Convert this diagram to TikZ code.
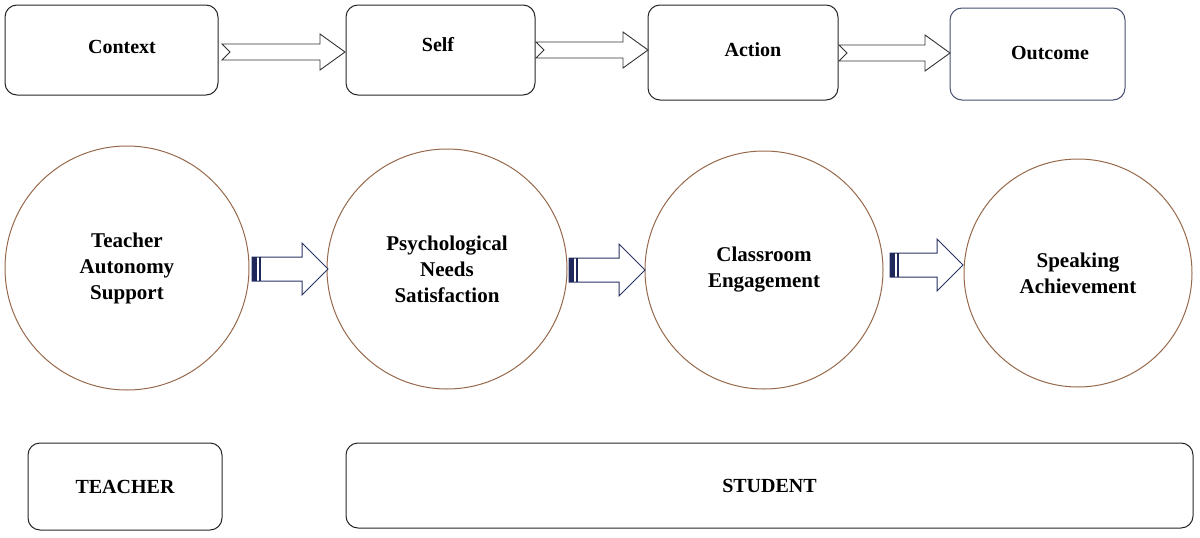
\documentclass[tikz,border=0pt]{standalone}
\usepackage{fontspec}
\setmainfont{Liberation Serif}
\definecolor{circbrown}{RGB}{150,105,75}
\definecolor{arrblue}{RGB}{40,50,100}
\definecolor{stripe}{RGB}{30,40,90}
\definecolor{outbord}{RGB}{70,80,110}
\tikzset{
 box/.style={draw=black!85, rounded corners=12pt, line width=1pt, font=\bfseries\fontsize{20}{22}\selectfont},
 circ/.style={draw=circbrown, line width=1pt, circle, align=center, font=\bfseries\fontsize{21}{26}\selectfont},
 oarrow/.style={draw=black!80, line width=0.9pt, fill=white},
 barrow/.style={draw=arrblue, line width=1pt, fill=white},
}
\newcommand\notcharrow[3]{% x1 x2 y
 \draw[oarrow] (#1,#3-8) -- (#2-25,#3-8) -- (#2-25,#3-18) -- (#2,#3) -- (#2-25,#3+18) -- (#2-25,#3+8) -- (#1,#3+8) -- (#1+8,#3) -- cycle;}
\newcommand\stripearrow[3]{%
 \draw[barrow] (#1,#3-12) -- (#2-26,#3-12) -- (#2-26,#3-26) -- (#2,#3) -- (#2-26,#3+26) -- (#2-26,#3+12) -- (#1,#3+12) -- cycle;
 \fill[stripe] (#1,#3-12) rectangle (#1+5,#3+12);
 \fill[stripe] (#1+7,#3-12) rectangle (#1+9,#3+12);}
\begin{document}
\begin{tikzpicture}[x=1pt,y=-1pt]
\useasboundingbox (0,0) rectangle (1200,538);
\draw[box] (5,5) rectangle (218,95); \node[box,draw=none] (ctx) at (122,47) {Context};
\draw[box] (346,5) rectangle (535,95); \node[box,draw=none] (self) at (438,45) {Self};
\draw[box] (648,5) rectangle (838,100); \node[box,draw=none] (act) at (753,50) {Action};
\draw[box,draw=outbord] (950,8) rectangle (1125,100); \node[box,draw=none] (out) at (1050,53) {Outcome};
\notcharrow{222}{345}{52}
\notcharrow{536}{648}{50}
\notcharrow{839}{950}{53}
\node[circ, minimum size=244] (tas) at (127,268) {Teacher\\Autonomy\\Support};
\node[circ, minimum size=240] (pns) at (447,269) {Psychological\\Needs\\Satisfaction};
\node[circ, minimum size=238] (ce) at (764,270) {Classroom\\Engagement};
\node[circ, minimum size=228] (sa) at (1078,273) {Speaking\\Achievement};
\stripearrow{252}{328}{269}
\stripearrow{569}{645}{270}
\stripearrow{890}{963}{265}
\node[box, minimum width=194, minimum height=87] (tch) at (125,486.5) {TEACHER};
\node[box, minimum width=847, minimum height=85] (stu) at (769.5,485.5) {STUDENT};
\end{tikzpicture}
\end{document}
